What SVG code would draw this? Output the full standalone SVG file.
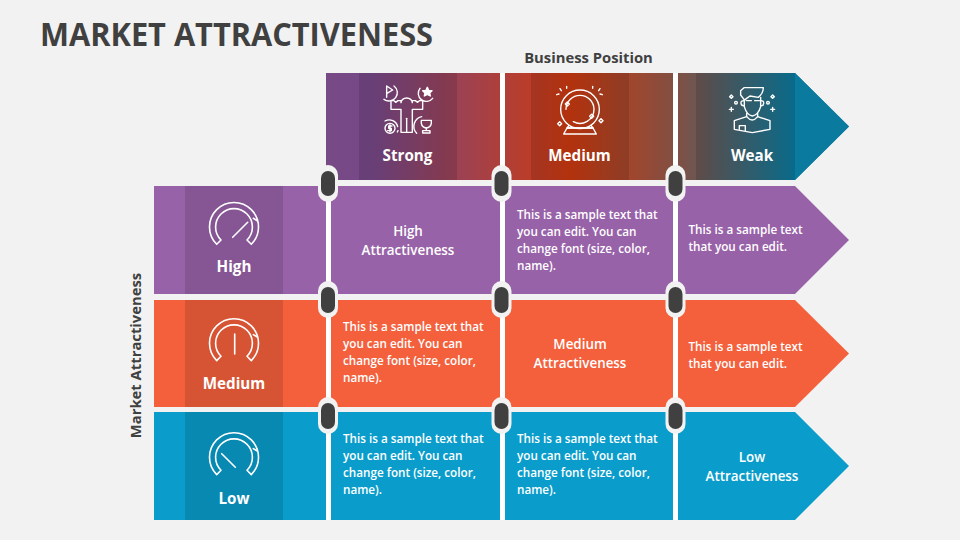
<svg xmlns="http://www.w3.org/2000/svg" width="960" height="540" viewBox="0 0 960 540">
<style>
text{font-family:"Open Sans","Noto Sans","Liberation Sans",sans-serif}
.t{font-size:32.7px;font-weight:700;fill:#404040}
.ax{font-size:14.8px;font-weight:700;fill:#404040;text-anchor:middle}
.h{font-size:15.2px;font-weight:700;fill:#fff;text-anchor:middle}
.b{font-size:11.7px;font-weight:600;fill:#fff}
.c{font-size:13.4px;font-weight:600;fill:#fff;text-anchor:middle}
.band{fill:#000;fill-opacity:.12}
.ic{fill:none;stroke:#fff;stroke-width:4.2;stroke-linejoin:round;stroke-linecap:round}
.g{fill:none;stroke:#fff;stroke-width:1.6;stroke-linejoin:round;stroke-linecap:round}
.w{fill:#fff}
.ho{fill:#f2f2f2}
.hi{fill:#404040}
</style>
<defs>
<linearGradient id="topgrad" gradientUnits="userSpaceOnUse" x1="326" y1="0" x2="795" y2="0">
<stop offset="0" stop-color="#764a85"/>
<stop offset=".1" stop-color="#774888"/>
<stop offset=".52" stop-color="#cc3a10"/>
<stop offset=".755" stop-color="#7d5045"/>
<stop offset="1" stop-color="#0a7a9e"/>
</linearGradient>
<g id="gauge">
<path class="g" d="M-17.3 17.3A24.5 24.5 0 1 1 17.3 17.3L13 13A18.4 18.4 0 1 0 -13 13Z"/>
<path class="g" d="M19.3 -8.7L23.3 -6.3"/>
</g>
</defs>
<rect width="960" height="540" fill="#f2f2f2"/>
<text class="t" x="40" y="46" textLength="393" lengthAdjust="spacingAndGlyphs">MARKET ATTRACTIVENESS</text>
<text class="ax" x="588.500" y="63">Business Position</text>
<text class="ax" transform="translate(141 355.5) rotate(-90)">Market Attractiveness</text>

<g id="shapes">
<polygon points="326,73 795,73 849,126.5 795,180 326,180" fill="url(#topgrad)"/>
<polygon points="795,73 849,126.5 795,180" fill="#0a7a9e"/>
<rect class="band" x="359" y="73" width="98" height="107"/>
<rect class="band" x="531" y="73" width="98" height="107"/>
<rect class="band" x="696" y="73" width="99" height="107"/>
<polygon points="154,186 795,186 849,240 795,294 154,294" fill="#9862a8"/>
<polygon points="154,300 795,300 849,353.5 795,407 154,407" fill="#f4603c"/>
<polygon points="154,412 795,412 849,466 795,520 154,520" fill="#0a9dcb"/>
<rect class="band" x="185" y="186" width="98" height="108"/>
<rect class="band" x="185" y="300" width="98" height="107"/>
<rect class="band" x="185" y="412" width="98" height="108"/>
</g>

<g id="connectors">
<rect class="w" x="326" y="186" width="5" height="334"/>
<rect class="w" x="500" y="73" width="5" height="447"/>
<rect class="w" x="673" y="73" width="5" height="447"/>
<g id="handles">
<rect class="ho" x="318" y="165" width="20" height="37" rx="10"/><rect class="hi" x="321" y="171" width="14" height="25" rx="7"/>
<rect class="ho" x="491.500" y="165" width="20" height="37" rx="10"/><rect class="hi" x="494.500" y="171" width="14" height="25" rx="7"/>
<rect class="ho" x="665.500" y="165" width="20" height="37" rx="10"/><rect class="hi" x="668.500" y="171" width="14" height="25" rx="7"/>
<rect class="ho" x="318" y="281" width="20" height="37" rx="10"/><rect class="hi" x="321" y="287" width="14" height="26" rx="7"/>
<rect class="ho" x="491.500" y="281" width="20" height="37" rx="10"/><rect class="hi" x="494.500" y="287" width="14" height="26" rx="7"/>
<rect class="ho" x="665.500" y="281" width="20" height="37" rx="10"/><rect class="hi" x="668.500" y="287" width="14" height="26" rx="7"/>
<rect class="ho" x="318" y="397" width="20" height="37" rx="10"/><rect class="hi" x="321" y="403" width="14" height="26" rx="7"/>
<rect class="ho" x="491.500" y="397" width="20" height="37" rx="10"/><rect class="hi" x="494.500" y="403" width="14" height="26" rx="7"/>
<rect class="ho" x="665.500" y="397" width="20" height="37" rx="10"/><rect class="hi" x="668.500" y="403" width="14" height="26" rx="7"/>
</g>
</g>

<g id="head-strong">
<g class="ic" transform="translate(320 60) scale(.3333)">
<path d="M200 112V78L218 90L201 100"/>
<path d="M222 78A22 22 0 0 1 192 118"/>
<path d="M300 85A22 22 0 0 0 338 115"/>
<path d="M322 82L326 91L336 92L329 99L331 108L322 103L313 108L315 99L308 92L318 91Z" fill="#fff"/>
<path d="M213 122V148H243V217H277V148H308V122H298L293 127L286 122H277V128A17 14 0 0 0 243 128V122H234L227 127L222 122Z"/>
<path d="M260 175V217"/>
<circle cx="210" cy="205" r="15"/>
<path d="M216 198H206V205H214V212H203M210 194V216"/>
<path d="M195 183A26 26 0 0 1 233 200M234 212L232 216"/>
<path d="M304 181H334V190Q332 202 319 204Q306 202 304 190Z"/>
<path d="M319 204V212M308 219H330V212H308Z"/>
<path d="M305 170A30 30 0 0 0 290 220"/>
</g>
<text class="h" x="407.500" y="161">Strong</text>
</g>

<g id="head-medium">
<g class="ic" transform="translate(545 78) scale(.3333)">
<circle cx="105" cy="94" r="58"/>
<path d="M63 94A42 42 0 0 1 147 94A42 42 0 0 1 85 131"/>
<path d="M72 142L66 150H144L138 142"/>
<path d="M66 150L56 168H154L144 150Z"/>
<path d="M67 72L73 78L67 84L61 78Z"/>
<path d="M140 109L146 115L140 121L134 115Z"/>
<path d="M44 131L50 137L44 143L38 137Z"/>
<path d="M168 122L174 128L168 134L162 128Z"/>
<path d="M65 25V31M143 25V31M35 50L42 48M45 32L49 38M172 50L165 48M165 32L161 38"/>
</g>
<text class="h" x="579.500" y="161">Medium</text>
</g>

<g id="head-weak">
<g class="ic" transform="translate(590 60) scale(.3333)">
<path d="M462 118L452 105V92L462 83H520Q520 100 505 112L480 108L470 115L465 120"/>
<path d="M463 118V140Q470 165 487 168Q505 165 512 140V112"/>
<path d="M462 122Q452 122 453 130Q454 138 463 137M512 122Q522 122 521 130Q520 138 512 137"/>
<path d="M470 122H484M494 122H508"/>
<path d="M470 160V170L433 182V208L487 218L540 208V182L503 170V160"/>
<path d="M470 170Q487 190 503 170"/>
<path d="M448 208V197H466V212"/>
<path d="M424 105L429 110L424 115L419 110ZM548 105L553 110L548 115L543 110Z"/>
<circle cx="438" cy="128" r="4"/><circle cx="534" cy="128" r="4"/>
<path d="M424 142V154M418 148H430M548 142V154M542 148H554"/>
</g>
<text class="h" x="752" y="161">Weak</text>
</g>

<g id="row-high">
<use href="#gauge" x="234" y="227"/>
<path class="g" d="M232.700 237.300L247.700 222.300"/>
<text class="h" x="234" y="272">High</text>
</g>
<g id="row-medium">
<use href="#gauge" x="234" y="343.300"/>
<path class="g" d="M234.700 334V354"/>
<text class="h" x="234" y="389">Medium</text>
</g>
<g id="row-low">
<use href="#gauge" x="234" y="457.300"/>
<path class="g" d="M221.700 453.700L235.300 467.300"/>
<text class="h" x="234" y="503.500">Low</text>
</g>

<g id="cell-high-strong"><text class="c" x="408" y="236">High</text><text class="c" x="408" y="255">Attractiveness</text></g>
<g id="cell-high-medium"><text class="b" x="517" y="218.500">This is a sample text that</text><text class="b" x="517" y="235.500">you can edit. You can</text><text class="b" x="517" y="252.500">change font (size, color,</text><text class="b" x="517" y="269.500">name).</text></g>
<g id="cell-high-weak"><text class="b" x="688.500" y="234">This is a sample text</text><text class="b" x="688.500" y="251">that you can edit.</text></g>

<g id="cell-medium-strong"><text class="b" x="343" y="330.500">This is a sample text that</text><text class="b" x="343" y="347.500">you can edit. You can</text><text class="b" x="343" y="364.500">change font (size, color,</text><text class="b" x="343" y="381.500">name).</text></g>
<g id="cell-medium-medium"><text class="c" x="580" y="348.700">Medium</text><text class="c" x="580" y="368">Attractiveness</text></g>
<g id="cell-medium-weak"><text class="b" x="688.500" y="351">This is a sample text</text><text class="b" x="688.500" y="368">that you can edit.</text></g>

<g id="cell-low-strong"><text class="b" x="343" y="443">This is a sample text that</text><text class="b" x="343" y="460">you can edit. You can</text><text class="b" x="343" y="477">change font (size, color,</text><text class="b" x="343" y="494">name).</text></g>
<g id="cell-low-medium"><text class="b" x="517" y="443">This is a sample text that</text><text class="b" x="517" y="460">you can edit. You can</text><text class="b" x="517" y="477">change font (size, color,</text><text class="b" x="517" y="494">name).</text></g>
<g id="cell-low-weak"><text class="c" x="752" y="461.700">Low</text><text class="c" x="752" y="481">Attractiveness</text></g>
</svg>
